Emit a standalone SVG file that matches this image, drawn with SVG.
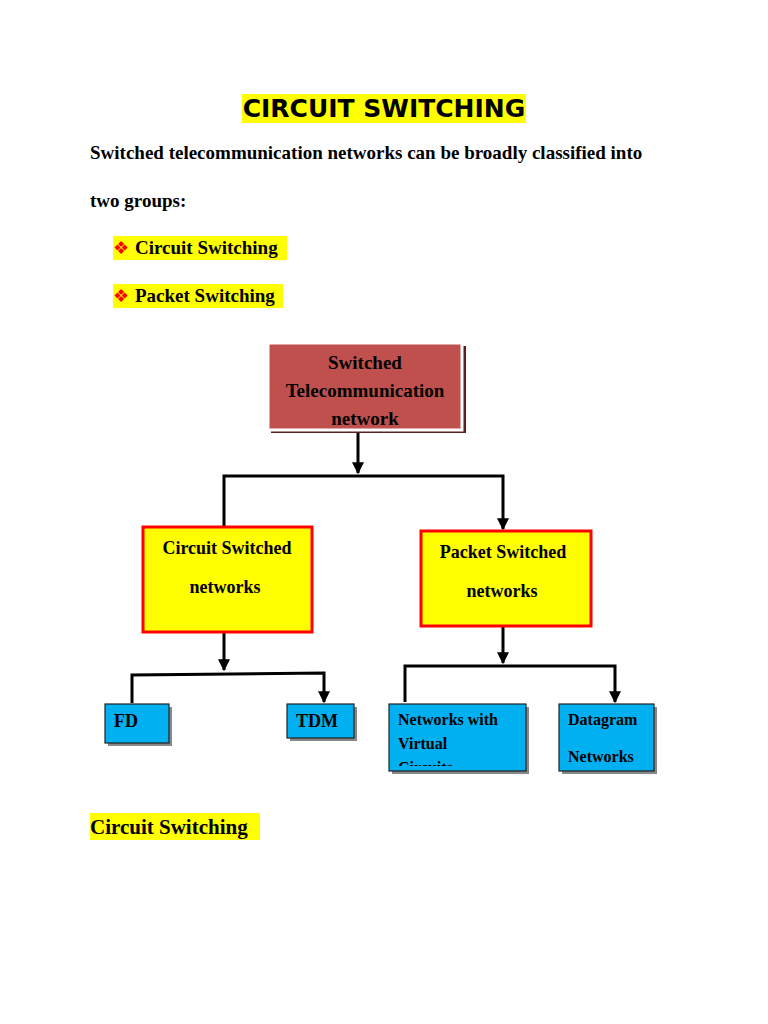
<svg xmlns="http://www.w3.org/2000/svg" width="768" height="1024" viewBox="0 0 768 1024">
<style>
.t{font-family:"Liberation Serif",serif;font-weight:bold;fill:#000}
.hl{fill:#ffff00}
.c{stroke:#000;stroke-width:3;fill:none}
.blue{fill:#00b0f0;stroke:#222;stroke-width:1.2}
.yel{fill:#ffff00;stroke:#ff0000;stroke-width:3}
</style>
<defs>
<marker id="a" viewBox="0 0 10 10" refX="9" refY="5" markerWidth="4" markerHeight="4" orient="auto"><path d="M0,0L10,5L0,10z" fill="#000"/></marker>
<clipPath id="c1"><rect x="270" y="345" width="190" height="80"/></clipPath>
<clipPath id="c2"><rect x="390" y="705" width="135" height="61"/></clipPath>
</defs>
<rect width="768" height="1024" fill="#fff"/>
<rect class="hl" x="242" y="94" width="284" height="29"/>
<text x="384" y="117" text-anchor="middle" font-family="DejaVu Sans,sans-serif" font-weight="bold" font-size="25">CIRCUIT SWITCHING</text>
<text class="t" x="90" y="159" font-size="19">Switched telecommunication networks can be broadly classified into</text>
<text class="t" x="90" y="207" font-size="19">two groups:</text>
<rect class="hl" x="113" y="236" width="174" height="24"/>
<rect class="hl" x="113" y="284" width="170" height="24"/>
<text x="113" y="254" font-size="18" fill="#ff0000" font-family="DejaVu Sans,sans-serif">❖</text>
<text class="t" x="135" y="254" font-size="19">Circuit Switching</text>
<text x="113" y="302" font-size="18" fill="#ff0000" font-family="DejaVu Sans,sans-serif">❖</text>
<text class="t" x="135" y="302" font-size="19">Packet Switching</text>
<g id="connectors">
<path class="c" d="M358,430V473" marker-end="url(#a)"/>
<path class="c" d="M224,527V476H503V529" marker-end="url(#a)"/>
<path class="c" d="M224,632V670" marker-end="url(#a)"/>
<path class="c" d="M132,703V675L324,673V702" marker-end="url(#a)"/>
<path class="c" d="M503,626V663" marker-end="url(#a)"/>
<path class="c" d="M405,702V666H615V702" marker-end="url(#a)"/>
</g>
<g id="root">
<rect x="271" y="346" width="195" height="87" fill="#5a1f1e"/>
<rect x="268" y="343" width="194" height="87" fill="#c0504d" stroke="#fff" stroke-width="3"/>
<g clip-path="url(#c1)" class="t" font-size="19" text-anchor="middle">
<text x="365" y="369">Switched</text>
<text x="365" y="397">Telecommunication</text>
<text x="365" y="425">network</text>
</g>
</g>
<g id="circuit">
<rect class="yel" x="143" y="527" width="169" height="105"/>
<text class="t" x="227" y="554" font-size="18" text-anchor="middle">Circuit Switched</text>
<text class="t" x="225" y="593" font-size="18" text-anchor="middle">networks</text>
</g>
<g id="packet">
<rect class="yel" x="421" y="531" width="170" height="95"/>
<text class="t" x="503" y="558" font-size="18" text-anchor="middle">Packet Switched</text>
<text class="t" x="502" y="597" font-size="18" text-anchor="middle">networks</text>
</g>
<g id="fd">
<rect x="108" y="707" width="64" height="39" fill="#888"/>
<rect class="blue" x="105" y="704" width="64" height="39"/>
<text class="t" x="114" y="727" font-size="18">FD</text>
</g>
<g id="tdm">
<rect x="290" y="707" width="67" height="34" fill="#888"/>
<rect class="blue" x="287" y="704" width="67" height="34"/>
<text class="t" x="296" y="727" font-size="18">TDM</text>
</g>
<g id="vc">
<rect x="392" y="707" width="137" height="67" fill="#888"/>
<rect class="blue" x="389" y="704" width="137" height="67"/>
<g clip-path="url(#c2)" class="t" font-size="16">
<text x="398" y="725">Networks with</text>
<text x="398" y="749">Virtual</text>
<text x="398" y="773">Circuits</text>
</g>
</g>
<g id="dg">
<rect x="562" y="707" width="95" height="67" fill="#888"/>
<rect class="blue" x="559" y="704" width="95" height="67"/>
<text class="t" x="568" y="725" font-size="16">Datagram</text>
<text class="t" x="568" y="762" font-size="16">Networks</text>
</g>
<rect class="hl" x="90" y="813" width="170" height="27"/>
<text class="t" x="90" y="834" font-size="21">Circuit Switching</text>
</svg>
